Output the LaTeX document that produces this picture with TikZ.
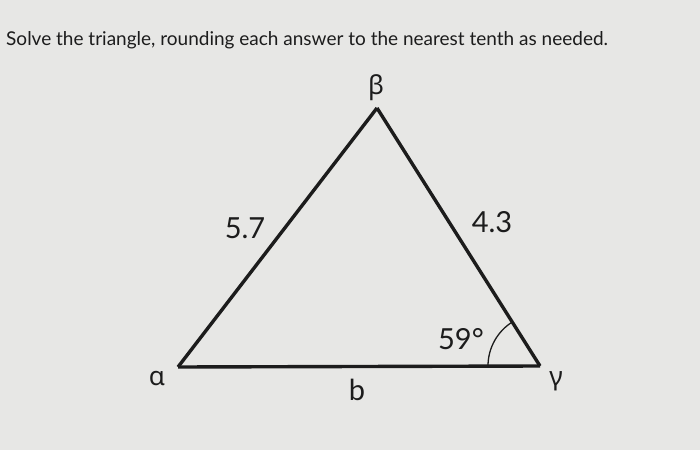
\documentclass[tikz,border=0pt]{standalone}
\usepackage{fontspec}
\setmainfont{Lato}
\newfontfamily\greekfont{Noto Sans}
\definecolor{paper}{RGB}{231,231,229}
\definecolor{ink}{RGB}{28,28,28}
\begin{document}
\begin{tikzpicture}[x=1pt,y=1pt]
		\tikzstyle{side}=[ink, line width=3.4pt, line join=miter]
		\tikzstyle{lbl}=[text=ink, inner sep=0pt, font=\fontsize{29}{32}\selectfont]
		\tikzstyle{vtx}=[text=ink, inner sep=0pt, font=\greekfont\fontsize{26}{28}\selectfont]
		\fill[paper] (0,0) rectangle (700,450);
		\useasboundingbox (0,0) rectangle (700,450);
		\node[anchor=west, inner sep=0pt, text=ink, font=\fontsize{19}{22}\selectfont] (title) at (6,410) {Solve the triangle, rounding each answer to the nearest tenth as needed.};
		\coordinate (A) at (178,83);
		\coordinate (B) at (377,342);
		\coordinate (C) at (540,84);
		\path (A) edge [side] (B)
		(B) edge [side] (C)
		(C) edge [side] (A);
		\draw[ink, line width=1.3pt] ([shift={(180:52)}]C) arc (180:122:52);
		\node[vtx] (alpha) at (157,71) {α};
		\node[vtx] (beta) at (376,362) {β};
		\node[vtx] (gamma) at (556,69) {γ};
		\node[lbl] (ab) at (245,222) {5.7};
		\node[lbl] (bc) at (492,228) {4.3};
		\node[lbl] (ang) at (461,111) {59°};
		\node[lbl] (ca) at (357,60) {b};
\end{tikzpicture}
\end{document}
